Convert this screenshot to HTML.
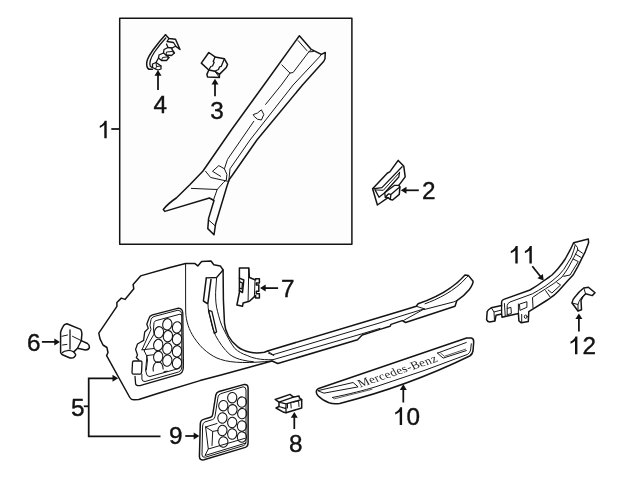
<!DOCTYPE html>
<html><head><meta charset="utf-8">
<style>
html,body{margin:0;padding:0;background:#fff;}
body{width:640px;height:480px;overflow:hidden;font-family:"Liberation Sans",sans-serif;}
svg{display:block}
.k{fill:none;stroke:#141414;stroke-width:1.5;stroke-linejoin:round;stroke-linecap:round}
.n{fill:none;stroke:#161616;stroke-width:1.0;stroke-linejoin:round;stroke-linecap:round}
.m{fill:none;stroke:#141414;stroke-width:1.3;stroke-linejoin:round;stroke-linecap:round}
.c{fill:none;stroke:#161616;stroke-width:1.1}
.a{fill:none;stroke:#111;stroke-width:1.75}
.h{fill:#111;stroke:none}
text{font-family:"Liberation Sans",sans-serif;font-size:24.3px;fill:#111;stroke:#111;stroke-width:0.4px}
</style></head><body>
<svg width="640" height="480" viewBox="0 0 640 480">
<rect x="0" y="0" width="640" height="480" fill="#fff"/>
<!-- BOX -->
<rect class="k" x="119.7" y="18.3" width="232.2" height="226" style="fill:#fdfdfd"/>
<!-- LABELS -->
<g id="labels" style="opacity:0.995">
<path class="h" transform="translate(106.7 138.1)" d="M0 0.2v-17.6h-2c-0.8 2.4-2.6 4.1-4.9 5v2.2c1.8-0.6 3.3-1.6 4.5-2.8v13.2z"/>
<text x="421.9" y="198.9">2</text>
<text x="210.3" y="119.2">3</text>
<text x="153.4" y="112.7">4</text>
<text x="71.0" y="415.9">5</text>
<text x="27.0" y="350.6">6</text>
<text x="281.1" y="296.8">7</text>
<text x="289.0" y="452.0">8</text>
<text x="168.9" y="444.2">9</text>
<path class="h" transform="translate(402.1 424.7)" d="M0 0.2v-17.6h-2c-0.8 2.4-2.6 4.1-4.9 5v2.2c1.8-0.6 3.3-1.6 4.5-2.8v13.2z"/><text x="406.4" y="425.0">0</text>
<path class="h" transform="translate(517.7 263.4)" d="M0 0.2v-17.6h-2c-0.8 2.4-2.6 4.1-4.9 5v2.2c1.8-0.6 3.3-1.6 4.5-2.8v13.2z"/><path class="h" transform="translate(531.8 263.4)" d="M0 0.2v-17.6h-2c-0.8 2.4-2.6 4.1-4.9 5v2.2c1.8-0.6 3.3-1.6 4.5-2.8v13.2z"/>
<path class="h" transform="translate(577.4 354)" d="M0 0.2v-17.6h-2c-0.8 2.4-2.6 4.1-4.9 5v2.2c1.8-0.6 3.3-1.6 4.5-2.8v13.2z"/><text x="582.6" y="354.3">2</text>
</g>
<!-- PART 4 -->
<g id="p4">
<path class="k" d="M165.5 34.8C162 38.5 157 44.5 153 50C150.5 53.5 148.5 57 147.5 59.5C146.6 62 146.5 64.5 147 66.5C147.5 68.5 148.5 69.3 150 69.3H152.5"/>
<path class="k" d="M165.5 34.8L169 38.5L175.5 39.2L180 49.5L176 46.5"/>
<path class="m" d="M165.8 38C162.5 41.5 158 47 154.5 52C152.5 55 151 58 150.3 60.5C149.7 63 149.7 65 150.3 66.3L152 67.5"/>
<path class="m" d="M169 38.5L167 41.5L173.5 42.5L176 46.5"/>
<path class="m" d="M166.5 44L168 47.5L172 48L175 46.5"/>
<path class="m" d="M168 47.5L164 49.5L163.5 53L166 55L171.5 55.5L174.5 53L172 49.5V48"/>
<path class="n" d="M166 55L166.5 52L172 51.5L174.5 53"/>
<path class="m" d="M163.5 53L159 55L158.5 58L161.5 60.5H166.5L169 57.5L166 55"/>
<path class="n" d="M161.5 60.5L162.5 57.5L166.5 57L169 57.5"/>
<path class="m" d="M158.500 58L156 62.5"/>
<path class="m" d="M152.500 67.500V64L156 62.500L159 64.500L161 66V69L158 70L155.500 69Z"/>
<path class="n" d="M156 62.500L156.500 66.500L161 66M156.500 66.500L155.500 69"/>
</g>
<!-- PART 3 -->
<g id="p3">
<path class="k" d="M208.8 52.5L201.3 63.1L208.8 70L215 71.3L219.4 74.4L226.3 67.5L227.5 64.4L224.4 58.8L215 56.9Z"/>
<path class="k" d="M208.8 70L206.9 74.4L207.5 76.9L219.4 77.5V74.4"/>
<path class="m" d="M224.4 58.8L221.3 66.3L219.6 66.8L218.5 69.5L216.3 70.5L215 71.3"/>
<path class="m" d="M215 56.9L213.2 61.5L214.2 62.3L212.5 66L210.8 66.5L208.8 70"/>
<path class="n" d="M215 71.3L219.4 77.5"/>
</g>
<!-- PILLAR -->
<g id="pillar">
<path class="k" d="M299.4 35.7L267.5 80L231.3 130L203 171L196.3 178L189.8 184.8L176.3 198Q168 203.5 163.3 209.5L164.8 211.4L209.4 198L214 200.5L208.6 218.4L207.8 228.6L214 234.8L215.6 224L227 186L229.2 179.5L232.5 175L256.9 140L302.5 85L323.8 61.3L325 58.8L325.3 52.5L321.3 54.4L311.3 49.4Z"/>
<path class="n" d="M311.3 49.4L308.8 51.9L293.1 72.5L290 73.1L281.9 65"/>
<path class="n" d="M298.1 40.6L306.9 50.6"/>
<path class="n" d="M308.8 51.9L313.5 51.5"/>
<path class="n" d="M290 73.1L281.3 85L265.6 104.4"/>
<path class="n" d="M253.8 121.3L227.5 159.4L224.4 168.8L226.9 174.4L226.3 180"/>
<path class="n" d="M224.4 168.8L218.8 165.6L212.5 171.3L220.6 176.3"/>
<path class="n" d="M321.3 54.4L319.4 56.9L293.1 85L250 140L230 168.8L228.8 181.3"/>
<path class="n" d="M253.6 114.5L257.5 113L261.4 109.8L263.8 114.5L261.4 120L257.5 119.2L254.7 116.9Z"/>
<path class="n" d="M205.6 171.3L210.6 177.5L228 181.3"/>
<path class="n" d="M191.4 188.4L217.2 189.5"/>
<path class="n" d="M226.3 180L223.4 182.5L217.2 189.5L213.3 200.5"/>
<path class="n" d="M208.6 220L214.8 225.5"/>
</g>
<!-- PART 2 -->
<g id="p2">
<path class="k" d="M398.200 160.400L402.700 165.100L403.800 166.300L405.200 176.900L398.800 185.400L399.900 187L399.300 194.400L392.600 200L390.300 199.400L388 197.700L377.400 205L372.600 188.800L387.500 173L389.800 171.900Z"/>
<path class="m" d="M372.600 188.800L381.900 187.600L402.100 166.800"/>
<path class="m" d="M375.100 189.900L379 197.200L384.700 192.700L398.800 177L399.500 172.500"/><path class="n" d="M399.500 172.500L383.300 190.300L375.100 189.900"/>
<path class="m" d="M384.700 192.700L394.300 185.400L398.800 185.400M384.700 192.700L385.300 197.200L388 197.700"/>
<path class="m" d="M385.300 197.200L388.600 193.800L390.900 194.400L397 189.300L399.900 187M390.900 194.400L390.300 199.400"/>
</g>
<!-- PART 5 PANEL + SILL -->
<g id="p5">
<path class="k" d="M185.600 263.400L170 267.500L140.600 275.900L133.100 284.400L133.800 288.800L125 299.400L121.300 298.100L116.900 302.500V306.300L98.800 333.100L100 338.800L103 345L106.900 347.500L108 352.500L106.600 355.600L129.800 397.500Q131.300 400.200 134.500 399.800L138.800 399.500L160 392.700L200 380.600L222 374.800L272 361L277.800 363.500L357.500 339.700L362.200 335L380 329.400L390 326.300L391 324.400L402.200 320.600L405.600 322.500L455 306.300L456.900 300.600C468 293 473 285.500 473.100 281.300L468.500 275.600L465 275C452 290 432 299 418.100 303.800L416.300 306.300L400 311.300L380 317.200L267.500 351L264.400 352.300C259 353.300 254 353.200 250.300 352.300C245 351 241 349.500 237.800 346.900C233.500 343.500 230.500 340 228.400 336C226 331.500 224.800 327.500 224.500 323.400L223.400 300L223.100 270L220.300 265.900L213.800 264.800L211 261L201.600 261.600L197.800 265.900L195 263.600Z"/>
<!-- inner thin curves -->
<path class="n" d="M185.600 263.400V300L185.700 312C186 321 189 330 194 337.500C198 343.500 202 348 206.600 351.600C211 355 215.500 357.800 220.600 359.400C227 361.500 234 362.300 242.500 362.500C252 362.600 262 362 272 361"/>
<path class="m" d="M223.100 270L216.600 277.500L206.300 277.900"/>
<path class="k" d="M206.300 277.900L203.400 301L207.800 303.800L211 279.400"/>
<path class="n" d="M216.600 277.500L215.600 292.500C215.500 300 216 306 217.500 311.300C219 317 220.500 324 224 330C227 336 230.500 343 234.700 348.400C238 351.500 242.500 354 247.200 355.500C250 357 253.500 358 256.600 358.600C262 359.600 267 359.900 273 359.700"/>
<path class="n" d="M208 304.700C208 309 209 313 210 316.900C211.500 324 213 330 215.600 335.600C219 342 224 349.500 230 354.700C234 357.500 238 359 242.500 360C246 361 250 361.500 253.400 361.700"/>
<path class="m" d="M208.500 310.300L211.900 311.300L216.600 331.900L214.300 333.400Z"/>
<!-- sill lines -->
<path class="n" d="M267.500 351L273 354.700L380 322.800L400 316.300L424.400 308.800L416.300 306.300"/>
<path class="n" d="M273 359.700L361.300 334L380 328.400"/>
<path class="n" d="M425 303.800C437 299.500 455 291 466.500 277.500L468.500 275.600"/>
<path class="n" d="M424.400 308.800L403.500 320.500"/>
<path class="n" d="M424.400 309.500L453.800 301.900L456.900 300.600"/>
<path class="n" d="M268.300 353L273.800 355.500"/>
<!-- grille -->
<path class="m" d="M183.300 360L182.800 313Q182.500 308.500 178.500 308.100L152.500 314.900Q149.500 316 148.900 318.500L146.800 324.300L148.300 328.400L144.700 332L143.600 340.400L140 342.500L137.500 344L135.600 349.400L137.500 355L136.300 357.500L138.800 360"/>
<path class="m" d="M183.300 360V368Q183 373 178.800 374.400L140 385.600Q136 386 135.600 383.800L135 376.300"/>
<path class="m" d="M132.500 362.500Q132.500 361 134 361H140.500Q142 361 142 362.500L141.500 372.500Q141.500 374.200 140 374.200H133.500Q132 374.200 132 372.500Z"/>
<path class="n" d="M181.800 368L181.700 313.500Q181.500 310.500 178 310.200L154 316.500Q151.500 317.500 151 319.600L150 325.300L151 329.500L142 349.800"/>
<path class="n" d="M181.700 315.400L180 314.200L156.100 320.600Q154.200 321.300 154 322.700L153.500 329L154 334.200L144.200 350.800"/>
<path class="n" d="M181.800 368Q181.500 371 178.500 372L145 381.500Q141.900 381.500 141.900 379V374.500"/>
<path class="n" d="M180.500 366Q180 368.500 177 369L150 376.500Q146.900 376.500 146.500 374L145.600 370L147 356"/>
<path class="n" d="M142 349.800L154 348.500M144.200 350.800L146.500 355.500L153.500 354.800M146.500 355.500L147.500 360L146.300 370"/>
<path class="c" d="M153.300 371.500C152.300 366 154.500 362 157.800 361.800C161 361.800 163 365 163.200 369.500"/>
<path class="c" d="M163.500 372.500C164.500 371.500 166 371 167.800 371.300"/>
<ellipse class="c" cx="167.3" cy="324.3" rx="4.6" ry="5.7" transform="rotate(10 167.3 324.3)"/>
<ellipse class="c" cx="177" cy="327.4" rx="4.6" ry="5.7" transform="rotate(10 177 327.4)"/>
<ellipse class="c" cx="159" cy="332.3" rx="4.6" ry="5.7" transform="rotate(10 159 332.3)"/>
<ellipse class="c" cx="167.9" cy="336.2" rx="4.6" ry="5.7" transform="rotate(10 167.9 336.2)"/>
<ellipse class="c" cx="177" cy="339.2" rx="4.6" ry="5.7" transform="rotate(10 177 339.2)"/>
<ellipse class="c" cx="158.2" cy="345" rx="4.6" ry="5.7" transform="rotate(10 158.2 345)"/>
<ellipse class="c" cx="167.3" cy="348.6" rx="4.6" ry="5.7" transform="rotate(10 167.3 348.6)"/>
<ellipse class="c" cx="177" cy="351.3" rx="4.6" ry="5.7" transform="rotate(10 177 351.3)"/>
<ellipse class="c" cx="158.2" cy="356.8" rx="4.6" ry="5.7" transform="rotate(10 158.2 356.8)"/>
<ellipse class="c" cx="167.3" cy="360.6" rx="4.6" ry="5.7" transform="rotate(10 167.3 360.6)"/>
<ellipse class="c" cx="177" cy="363.2" rx="4.6" ry="5.7" transform="rotate(10 177 363.2)"/>
</g>
<!-- PART 6 -->
<g id="p6">
<path class="k" d="M66.900 323.800Q64 324.500 63.100 326.300Q61 330 60.600 332.500V352.500Q61.500 354.500 63 355L70 358Q73 358.500 74.400 356.900Q76 355.500 75.600 354.400L73.800 351.900L77.500 348.300L85.500 350Q88.800 349.800 89.400 347.500Q89.700 345 87.500 343.500L81.300 340.600L81.900 333.800Q81.800 331 80.600 329.400Z"/>
<path class="m" d="M70 330V349"/>
<path class="m" d="M81.300 340.600L77.500 348.300"/>
<path class="n" d="M61.900 336.300L67.500 335M72.500 336.300L81.300 340.600M62.500 345L66.900 344.400"/>
<path class="m" d="M73.800 351.900Q70 350 67.500 350.600Q64 351 62.500 352.500"/>
</g>
<!-- PART 7 -->
<g id="p7">
<path class="k" d="M239.400 268.100H248.800L249.400 277.500L255.600 280V278.800H259.400V283.100H256.300V285H258.800V291.300H256.300V293.800H259.400V298H255.600V295.600L249.400 301.300L243.100 303L242.500 306.300L236.900 305L239.400 292.500Z"/>
<path class="k" d="M239.400 278.100L243.800 280L242.500 292.500L239.400 290.600"/>
<path class="m" d="M240 281.900L242.500 283.100L241.900 288.800L239.400 288.100"/>
<path class="n" d="M248.800 268.100L248.100 300.600"/>
<path class="n" d="M255 280.600L254.400 296.300"/>
</g>
<!-- PART 8 -->
<g id="p8">
<path class="k" d="M275.200 399.500L290 394.400L293.500 397.100L299 396L299.400 397.900L301.700 399.500V408L286 412.700L283.800 412.300L276 408L279 406.500V402.200Z"/>
<path class="m" d="M279 402.200L293.500 397.100M286 403.800L301.700 399.500M286 403.800V412.700M279 402.200L286 403.800M279 406.500L286 408.600"/>
<path class="n" d="M287.500 404.300V408M290.800 403L291.200 408M293.200 402.200L298.600 401L299 406.500"/>
</g>
<!-- PART 9 -->
<g id="p9">
<path class="k" d="M244.400 384.400Q248.100 384.200 248.100 388.400V442.500Q248 446.500 245.300 447.400L204 459.800Q199.500 460.500 199.400 456.500L200.300 424Q200.500 420.200 203.500 419.400L210.500 417.300Q212.500 416.600 212.800 414L215.800 395Q216.500 392.300 219 391.500Z"/>
<path class="n" d="M243.500 386.800Q246 386.800 246 390V441.500Q246 444.800 243.800 445.500L205.500 457.200Q202 457.700 202 455L202.600 426Q202.800 422.600 205 421.900L212.500 419.600Q214.700 418.900 215 416.300L218 397Q218.500 394.500 220.500 393.800Z"/>
<path class="n" d="M205.600 427L217 423.500M205.600 427L208.300 449L244.600 438.400M205.600 427L212.700 431.400L218 430.500M212.700 431.400L212 445.500M208.300 449L205 455.500L246 443"/>
<ellipse class="c" cx="232.2" cy="397.7" rx="4.6" ry="5.2" transform="rotate(8 232.2 397.7)"/>
<ellipse class="c" cx="241.9" cy="402.1" rx="4.6" ry="5.2" transform="rotate(8 241.9 402.1)"/>
<ellipse class="c" cx="223.3" cy="405.7" rx="4.6" ry="5.2" transform="rotate(8 223.3 405.7)"/>
<ellipse class="c" cx="232.5" cy="409.8" rx="4.6" ry="5.2" transform="rotate(8 232.5 409.8)"/>
<ellipse class="c" cx="242.2" cy="413.6" rx="4.6" ry="5.2" transform="rotate(8 242.2 413.6)"/>
<ellipse class="c" cx="222.4" cy="418" rx="4.6" ry="5.2" transform="rotate(8 222.4 418)"/>
<ellipse class="c" cx="232.2" cy="422.5" rx="4.6" ry="5.2" transform="rotate(8 232.2 422.5)"/>
<ellipse class="c" cx="241.9" cy="426" rx="4.6" ry="5.2" transform="rotate(8 241.9 426)"/>
<ellipse class="c" cx="222.4" cy="430.5" rx="4.6" ry="5.2" transform="rotate(8 222.4 430.5)"/>
<ellipse class="c" cx="232.2" cy="434" rx="4.6" ry="5.2" transform="rotate(8 232.2 434)"/>
<ellipse class="c" cx="241.9" cy="437" rx="4.6" ry="5.2" transform="rotate(8 241.9 437)"/>
<ellipse class="c" cx="223.3" cy="442" rx="4.6" ry="5.2" transform="rotate(8 223.3 442)"/>
</g>
<!-- PART 10 -->
<g id="p10">
<path class="k" d="M318 388.800L466.600 338H471.300Q473.800 338.500 473.700 341.900L473 351Q472.300 354.500 469.700 356Q407 386.500 339.700 403.400Q334 404.500 329 402.800Q322 400 318 395.800Q314.500 391 318 388.800Z"/>
<path class="n" d="M318.100 390.600L353.100 382.500L358.100 386.900L324.400 393.100Z"/>
<path class="n" d="M437.500 353.100L466.300 342.500M437.500 353.100L443.100 358.100L466.300 350.600"/><path class="n" style="stroke-width:0.7" d="M440.600 353.100L444.400 356.300L465.600 349.100"/>
<path class="n" d="M332.500 397.500C350 394 365 390 375 387L425 370.200L467.500 354.400Q470.300 352.500 470.600 350L471.300 343.800"/>
<path class="n" style="stroke-width:0.7" d="M332.500 397.500L334.400 398.800L372 389.300"/>
<text transform="matrix(1.005 -0.338 0.5 0.87 360.2 387.5)" style="font-family:'Liberation Serif',serif;font-size:11.8px;letter-spacing:0.3px;fill:#262626;stroke:none">Mercedes-Benz</text>
</g>
<!-- PART 11 -->
<g id="p11">
<path class="k" d="M588.300 238.900L573.600 242.700L570.300 249.700L565.200 259Q562 264 558.100 268.400Q555 272 552 275Q548 278 543.500 281Q537 286 530 290L503.800 299.400Q501.800 300.200 501.600 302V305.500L491.300 307.800Q488 309.500 487.200 311.500L486.600 319.600Q487.500 321.800 489.400 321.900L495 320.900L496 315.300L501.600 314L502 317.200L518.400 313.400L518.900 320.900L521.300 322.800L528.300 321.400L528.800 311.600L546.600 300.500Q554 296 558.500 291L568.600 279.700L573.100 275L577.800 266.600L582 258.100L585.300 251.600L588.600 242.700Z"/>
<path class="m" d="M501.600 305.500V314"/>
<path class="n" d="M575 245.500L573.800 250.200L571.300 257.200L563.800 269.400L559 275Q552 281.500 545 286.300Q538.500 290.500 532.500 293.800L510 302Q507.500 303.300 507.200 305.500V315"/>
<path class="n" d="M573.600 242.700L577.300 247.300L577.800 249.700L574 257.200L567.500 269L562 277Q554 284 545.600 288.800Q538 293.500 532.500 297.500L533 307.800"/>
<path class="n" d="M577.500 249.700L582.500 253.200M575.300 254L581 257.400M573.100 259L578.300 261.600L570 275L563.800 276.300"/>
<path class="n" d="M556.900 282.500L560.600 285L551.900 293L548.100 290M545.600 290.600L550 296.900"/>
<path class="n" d="M519.800 304L526.900 301.700V307.300L520.300 310.200ZM518.400 304V313.400"/>
<path class="n" d="M507.200 308.500L510.900 307.300L511.400 313.400L507.200 314.800"/>
<path class="n" d="M504.400 303.500L505.300 316.600"/>
<path class="n" d="M491.300 307.800L494 312L501.600 310M494 312L494.500 320.900"/>
<path class="n" d="M521.700 314.400V322.500"/>
<ellipse class="n" cx="525.700" cy="316.700" rx="1.400" ry="1.700"/>
</g>
<!-- PART 12 -->
<g id="p12">
<path class="k" d="M583.800 288L588.400 287.200L595 292.800L592.200 295.600L585.600 293.800Q582 297 581 300.300L581.500 309.700L578 311L572 303Q572.500 299.500 575.300 296.600Q579 291.500 583.800 288Z"/>
<path class="n" d="M572 303L578 304.500V311M578 304.500Q579.500 298 585.600 293.800M583.800 288L585.600 293.800"/>
</g>
<!-- ARROWS -->
<g id="arrows">
<path class="a" d="M111.300 129H119"/>
<path class="a" d="M418.800 190.300H405"/><path class="h" d="M400.800 190.300l5.700-3.500v7z"/>
<path class="a" d="M215 96.300V83"/><path class="h" d="M215 78.700l3.500 5.700h-7z"/>
<path class="a" d="M158 90V75"/><path class="h" d="M158 70l3.500 5.700h-7z"/>
<path class="a" d="M83.800 406.300H88.700"/>
<path class="a" d="M113 378.300H88.700V436.300H160.500"/><path class="h" d="M118.200 378.300l-5.700-3.500v7z"/>
<path class="a" d="M41.900 341.900H55"/><path class="h" d="M60 341.900l-5.700-3.500v7z"/>
<path class="a" d="M278.100 288.100H265"/><path class="h" d="M260 288.100l5.700-3.500v7z"/>
<path class="a" d="M294.300 429V417"/><path class="h" d="M294.300 412l3.500 5.700h-7z"/>
<path class="a" d="M185.300 436H194.500"/><path class="h" d="M199.400 436l-5.700-3.500v7z"/>
<path class="a" d="M403.300 402.500V389"/><path class="h" d="M403.300 384.200l3.500 5.700h-7z"/>
<path class="a" d="M532.300 266.200L540.500 276.500"/><path class="h" d="M543.700 280.500l-6.300-2.300 5.500-4.300z"/>
<path class="a" d="M578.900 331.500V318"/><path class="h" d="M578.900 313.400l3.500 5.700h-7z"/>
</g>
</svg>
</body></html>
